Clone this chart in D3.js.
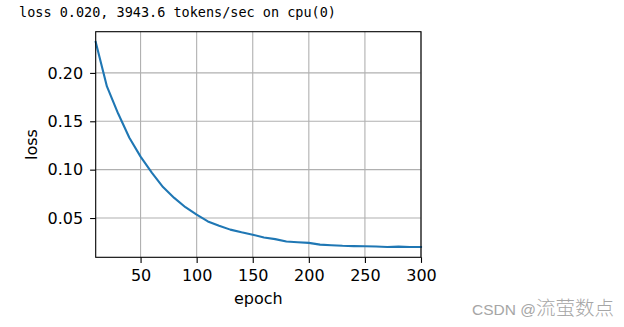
<!DOCTYPE html>
<html>
<head>
<meta charset="utf-8">
<script src="https://cdn.jsdelivr.net/npm/d3@7/dist/d3.min.js"></script>
<style>
  html, body { margin: 0; padding: 0; background: #fff; }
  svg { display: block; }
</style>
</head>
<body>
<svg id="chart" width="624" height="327"></svg>
<script>
const epochs = [10, 20, 30, 40, 50, 60, 70, 80, 90, 100, 110, 120, 130, 140, 150,
                160, 170, 180, 190, 200, 210, 220, 230, 240, 250, 260, 270, 280, 290, 300];
const lossValues = [0.232, 0.186, 0.158, 0.133, 0.1135, 0.097, 0.082, 0.0708, 0.0612, 0.0535,
                    0.0465, 0.042, 0.038, 0.0352, 0.0328, 0.0298, 0.0282, 0.0257, 0.025, 0.0243,
                    0.0225, 0.0219, 0.0213, 0.021, 0.0209, 0.0205, 0.0201, 0.0204, 0.0200, 0.0200];
const xTicks = [50, 100, 150, 200, 250, 300];
const yTicks = [0.05, 0.10, 0.15, 0.20];
const titleText = "loss 0.020, 3943.6 tokens/sec on cpu(0)";
const xLabel = "epoch";
const yLabel = "loss";
const watermarkLatin = "CSDN @";
const watermarkCJK = "流萤数点";

const svg = d3.select("#chart");
const pL = 95.7, pR = 421, pT = 31.7, pB = 257.3;

const x = d3.scaleLinear().domain(d3.extent(epochs)).range([pL, pR]);
const [ymin, ymax] = d3.extent(lossValues);
const pad = (ymax - ymin) * 0.05;
const y = d3.scaleLinear().domain([ymin - pad, ymax + pad]).range([pB, pT]);

const tickFont = "DejaVu Sans, sans-serif";

// grid
const g = svg.append("g");
g.selectAll("line.vx").data(xTicks).enter().append("line")
  .attr("x1", d => x(d)).attr("x2", d => x(d)).attr("y1", pT).attr("y2", pB)
  .attr("stroke", "#b0b0b0").attr("stroke-width", 1.1);
g.selectAll("line.hy").data(yTicks).enter().append("line")
  .attr("y1", d => y(d)).attr("y2", d => y(d)).attr("x1", pL).attr("x2", pR)
  .attr("stroke", "#b0b0b0").attr("stroke-width", 1.1);

// line
const line = d3.line().x((d, i) => x(epochs[i])).y(d => y(d));
svg.append("path").datum(lossValues)
  .attr("d", line).attr("fill", "none")
  .attr("stroke", "#1f77b4").attr("stroke-width", 2.1)
  .attr("stroke-linejoin", "round").attr("stroke-linecap", "square");

// axes
const xAxis = d3.axisBottom(x).tickValues(xTicks).tickFormat(d3.format("d")).tickSize(5.6).tickPadding(6.5);
const yAxis = d3.axisLeft(y).tickValues(yTicks).tickFormat(d3.format(".2f")).tickSize(5.6).tickPadding(7);

const xa = svg.append("g").attr("transform", `translate(0,${pB})`).call(xAxis);
const ya = svg.append("g").attr("transform", `translate(${pL},0)`).call(yAxis);
[xa, ya].forEach(a => {
  a.select(".domain").remove();
  a.selectAll(".tick line").attr("stroke", "#000").attr("stroke-width", 1.1);
  a.selectAll(".tick text").attr("fill", "#000")
    .style("font-family", tickFont).style("font-size", "16px");
});

// spines
svg.append("rect").attr("x", pL).attr("y", pT)
  .attr("width", pR - pL).attr("height", pB - pT)
  .attr("fill", "none").attr("stroke", "#000").attr("stroke-width", 1.1);

// labels
svg.append("text").attr("x", (pL + pR) / 2).attr("y", 304)
  .attr("text-anchor", "middle").style("font-family", tickFont).style("font-size", "16px")
  .text(xLabel);
svg.append("text").attr("transform", `translate(37,${(pT + pB) / 2}) rotate(-90)`)
  .attr("text-anchor", "middle").style("font-family", tickFont).style("font-size", "16px")
  .text(yLabel);

// title
svg.append("text").attr("x", 19).attr("y", 17)
  .style("font-family", "DejaVu Sans Mono, monospace").style("font-size", "13.5px")
  .attr("fill", "#000").text(titleText);

// watermark
const wm = svg.append("text").attr("x", 472).attr("y", 315)
  .attr("fill", "#a6a6a6");
wm.append("tspan").style("font-family", "Liberation Sans, sans-serif").style("font-size", "15.5px")
  .text(watermarkLatin);
wm.append("tspan").style("font-family", "Noto Sans CJK SC, sans-serif").style("font-size", "19.5px")
  .style("font-weight", "300")
  .text(watermarkCJK);
</script>
</body>
</html>
